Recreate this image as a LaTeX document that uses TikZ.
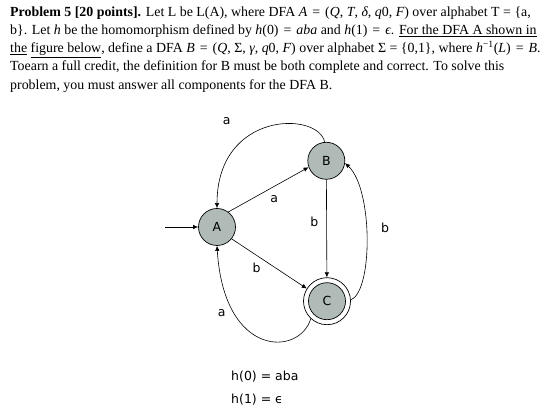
\documentclass[tikz,border=0pt]{standalone}
\usepackage{fontspec}
\setmainfont{Liberation Serif}
\newfontfamily\diagfont{DejaVu Sans}
\usetikzlibrary{positioning,calc,arrows.meta}
\definecolor{stategray}{RGB}{176,187,184}
\newcommand{\mv}[1]{\textit{#1}}
\newcommand{\meq}{\hspace{5pt}=\hspace{5pt}}

\begin{document}
\begin{tikzpicture}[x=1pt, y=1pt,
  txt/.style={anchor=base west, inner sep=0pt, font=\fontsize{13.9}{18}\selectfont},
  state/.style={draw, circle, fill=stategray, minimum size=37pt, inner sep=0pt,
                line width=0.7pt, font=\diagfont\fontsize{12.5}{14}\selectfont},
  ring/.style={draw, circle, minimum size=47pt, inner sep=0pt, line width=0.7pt},
  lbl/.style={font=\diagfont\fontsize{12.5}{14}\selectfont, inner sep=0pt},
  arr/.style={-{Latex[length=5pt,width=4.5pt]}, line width=0.6pt}
]
  \useasboundingbox (0,0) rectangle (553,411);

  % Problem text
  \node[txt] (l1) at (10,394.3) {\textbf{Problem 5 [20 points].} Let L be L(A), where DFA \mv{A}\meq(\mv{Q}, \mv{T}, \mv{δ}, \mv{q}0, \mv{F}) over alphabet T = \{a,};
  \node[txt] (l2) at (10,376.3) {b\}. Let \mv{h} be the homomorphism defined by \mv{h}(0)\meq\mv{aba} and \mv{h}(1)\meq\mv{ϵ}. \underline{For the DFA A shown in}};
  \node[txt] (l3) at (10,358.3) {\underline{the} \underline{figure below}, define a DFA \mv{B}\meq(\mv{Q}, Σ, \mv{γ}, \mv{q}0, \mv{F}) over alphabet Σ = \{0,1\}, where \mv{h}\textsuperscript{−1}(\mv{L})\meq\mv{B}.};
  \node[txt] (l4) at (10,340) {Toearn a full credit, the definition for B must be both complete and correct. To solve this};
  \node[txt] (l5) at (10,321.7) {problem, you must answer all components for the DFA B.};

  % States
  \node[state] (A) at (217,184) {A};
  \node[state] (B) at (326.3,250.2) {B};
  \node[state] (C) at (327,109.8) {C};
  \node[ring] (Cr) at (C) {};
  \coordinate (start) at (165,184);

  % Transitions
  \draw[arr] (start) -- (A);
  \draw[arr] (A.53) -- (B.200);
  \draw[arr] (A.-39) -- (Cr.148);
  \draw[arr] (B) -- (Cr);
  \draw[arr] (B.95) .. controls (318,300) and (217,300) .. (A.north);
  \draw[arr] (Cr.3) .. controls (373,120) and (373,222) .. (B.-7);
  \draw[arr] (Cr.227) .. controls (300,55) and (224,52) .. (A.south);

  % Edge labels
  \node[lbl] (la1) at (226.7,290.3) {a};
  \node[lbl] (la2) at (274.3,212) {a};
  \node[lbl] (lb1) at (314.3,189.3) {b};
  \node[lbl] (lb2) at (385,183.3) {b};
  \node[lbl] (lb3) at (256.7,143.3) {b};
  \node[lbl] (la3) at (221.7,97.7) {a};

  % Homomorphism
  \node[lbl, anchor=west] (h0) at (231,34) {h(0) = aba};
  \node[lbl, anchor=west] (h1) at (231,11) {h(1) = ϵ};
\end{tikzpicture}
\end{document}
